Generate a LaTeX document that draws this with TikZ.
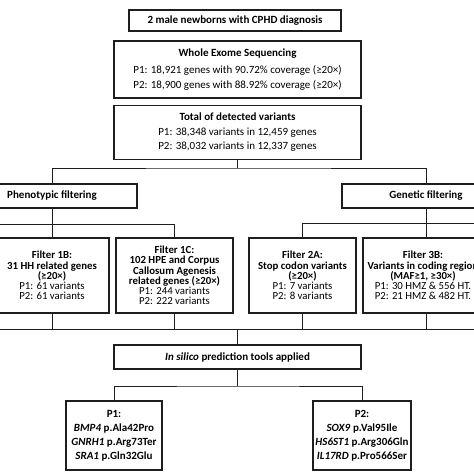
\documentclass[tikz,border=0pt]{standalone}
\usepackage{fontspec}
\setmainfont{Carlito}
\usetikzlibrary{positioning}
\definecolor{InkGrey}{RGB}{30,30,30}
\tikzset{
  link/.style={draw=InkGrey,line width=0.9pt},
  box/.style={draw=InkGrey,line width=1.3pt,fill=white,inner sep=0pt,align=center},
  headbox/.style={box,minimum height=24pt,font=\fontsize{11}{13}\selectfont\bfseries},
  listbox/.style={box,minimum width=247pt,font=\fontsize{11}{14.5}\selectfont},
  filterbox/.style={box,minimum height=75pt,font=\fontsize{10.8}{10.2}\selectfont},
  resultbox/.style={box,minimum height=69pt,font=\fontsize{11}{14}\selectfont\bfseries}
}

\begin{document}
\begin{tikzpicture}[x=1pt,y=-1pt]
  \useasboundingbox[fill=white] (0,0) rectangle (474,474);
  \clip (0,0) rectangle (474,474);

  % main column
  \node[headbox,minimum width=212pt,minimum height=21pt] (start) at (235,20.5) {2 male newborns with CPHD diagnosis};
  \node[listbox,minimum height=57pt] (wes) at (237.5,69.5) {\textbf{Whole Exome Sequencing}\\[3pt]
    P1: 18,921 genes with 90.72\% coverage (≥20×)\\
    P2: 18,900 genes with 88.92\% coverage (≥20×)};
  \node[listbox,minimum height=54pt,below=6pt of wes] (total) {\textbf{Total of detected variants}\\
    P1: 38,348 variants in 12,459 genes\\
    P2: 38,032 variants in 12,337 genes};

  % two branches
  \node[headbox,minimum width=170pt] (pheno) at (52,196) {Phenotypic filtering};
  \node[headbox,minimum width=168pt] (genetic) at (426,196) {Genetic filtering};
  \coordinate (split) at (237.5,168);
  \draw[link] (total) -- (split);
  \draw[link] (pheno.north) |- (split) -| (genetic.north);

  % filters
  \node[filterbox,minimum width=114pt] (f1B) at (52,275.5) {\textbf{Filter 1B:}\\\textbf{31 HH related genes}\\\textbf{(≥20×)}\\
    P1: 61 variants\\P2: 61 variants};
  \node[filterbox,minimum width=117pt] (f1C) at (174.5,275.5) {\textbf{Filter 1C:}\\\textbf{102 HPE and Corpus}\\\textbf{Callosum Agenesis}\\\textbf{related genes (≥20×)}\\
    P1: 244 variants\\P2: 222 variants};
  \node[filterbox,minimum width=107pt] (f2A) at (302.5,275.5) {\textbf{Filter 2A:}\\\textbf{Stop codon variants}\\\textbf{(≥20×)}\\
    P1: 7 variants\\P2: 8 variants};
  \node[filterbox,minimum width=120pt] (f3B) at (423,275.5) {\textbf{Filter 3B:}\\\textbf{Variants in coding region}\\\textbf{(MAF≥1, ≥30×)}\\
    P1: 30 HMZ \& 556 HT.\\P2: 21 HMZ \& 482 HT.};
  \coordinate (leftout) at (-10,224);
  \coordinate (rightout) at (490,223);
  \draw[link] (pheno.south) -- (pheno.south |- f1B.north);
  \draw[link] (f1C.north) |- (leftout);
  \draw[link] (genetic.south) -- (genetic.south |- f3B.north);
  \draw[link] (f2A.north) |- (rightout);

  % merge
  \coordinate (lowleft) at (-10,329);
  \coordinate (lowright) at (490,329);
  \draw[link] (lowleft) -- (lowright);
  \foreach \f in {f1B,f1C,f2A} \draw[link] (\f.south) -- (\f.south |- lowleft);
  \draw[link] (genetic.south |- f3B.south) -- (genetic.south |- lowleft);

  \node[headbox,minimum width=247pt] (silico) at (237.5,357) {\textit{In silico} prediction tools applied};
  \draw[link] (silico.north) -- (silico.north |- lowleft);

  % results
  \node[resultbox,minimum width=96pt] (p1) at (114,435.5) {P1:\\\textit{BMP4} p.Ala42Pro\\\textit{GNRH1} p.Arg73Ter\\\textit{SRA1} p.Gln32Glu};
  \node[resultbox,minimum width=98pt] (p2) at (362,435.5) {P2:\\\textit{SOX9} p.Val95Ile\\\textit{HS6ST1} p.Arg306Gln\\\textit{IL17RD} p.Pro566Ser};
  \coordinate (psplit) at (237.5,386);
  \draw[link] (silico) -- (psplit);
  \draw[link] (p1.north) |- (psplit) -| (p2.north);
\end{tikzpicture}
\end{document}
